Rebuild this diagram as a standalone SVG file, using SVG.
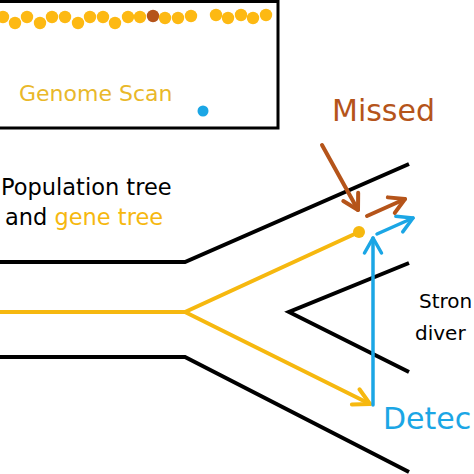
<svg xmlns="http://www.w3.org/2000/svg" width="474" height="474" viewBox="0 0 474 474">
<style>
.t{font-family:"DejaVu Sans","Liberation Sans",sans-serif}
.blk{fill:none;stroke:#000;stroke-width:4;stroke-linejoin:miter}
.yel{fill:none;stroke:#F6B80F;stroke-width:4;stroke-linecap:round}
.blu{fill:none;stroke:#1BA6E5;stroke-width:3.5;stroke-linecap:round}
.brn{fill:none;stroke:#B5541A;stroke-width:4;stroke-linecap:round}
.dot{fill:#FDB913}
</style>
<defs>
<marker id="hy" markerUnits="userSpaceOnUse" viewBox="-20 -12 24 24" markerWidth="24" markerHeight="24" refX="0" refY="0" orient="auto"><path d="M-16,-8.5 L0,0 L-16,8.5" fill="none" stroke="#F6B80F" stroke-width="4" stroke-linecap="round" stroke-linejoin="round"/></marker>
<marker id="hb" markerUnits="userSpaceOnUse" viewBox="-20 -12 24 24" markerWidth="24" markerHeight="24" refX="0" refY="0" orient="auto"><path d="M-15,-8.5 L0,0 L-15,8.5" fill="none" stroke="#1BA6E5" stroke-width="3.5" stroke-linecap="round" stroke-linejoin="round"/></marker>
<marker id="hr" markerUnits="userSpaceOnUse" viewBox="-20 -12 24 24" markerWidth="24" markerHeight="24" refX="0" refY="0" orient="auto"><path d="M-15,-8.5 L0,0 L-15,8.5" fill="none" stroke="#B5541A" stroke-width="4" stroke-linecap="round" stroke-linejoin="round"/></marker>
</defs>
<rect width="474" height="474" fill="#fff"/>
<g id="genome-scan">
<path d="M-5,1.5 H278 V128 H-5" fill="none" stroke="#000" stroke-width="3"/>
<g>
<circle class="dot" cx="3" cy="17" r="6.2"/>
<circle class="dot" cx="15" cy="23" r="6.2"/>
<circle class="dot" cx="27" cy="17" r="6.2"/>
<circle class="dot" cx="40" cy="23" r="6.2"/>
<circle class="dot" cx="52" cy="17" r="6.2"/>
<circle class="dot" cx="65" cy="17" r="6.2"/>
<circle class="dot" cx="78" cy="23" r="6.2"/>
<circle class="dot" cx="90" cy="17" r="6.2"/>
<circle class="dot" cx="103" cy="17" r="6.2"/>
<circle class="dot" cx="115" cy="23" r="6.2"/>
<circle class="dot" cx="128" cy="17" r="6.2"/>
<circle class="dot" cx="140" cy="17" r="6.2"/>
<circle cx="153" cy="16" r="6.2" fill="#B5541A"/>
<circle class="dot" cx="165" cy="18" r="6.2"/>
<circle class="dot" cx="178" cy="18" r="6.2"/>
<circle class="dot" cx="191" cy="16" r="6.2"/>
<circle class="dot" cx="216" cy="15" r="6.2"/>
<circle class="dot" cx="228" cy="18" r="6.2"/>
<circle class="dot" cx="241" cy="15" r="6.2"/>
<circle class="dot" cx="253" cy="18" r="6.2"/>
<circle class="dot" cx="266" cy="15" r="6.2"/>
</g>
<text class="t" x="19" y="101" font-size="22" fill="#E9B82A">Genome Scan</text>
<circle cx="203" cy="111" r="5.5" fill="#1BA6E5"/>
</g>
<g id="population-tree">
<path class="blk" d="M-5,262 H185 L409,164"/>
<path class="blk" d="M409,263 L289,312 L409,372"/>
<path class="blk" d="M-5,357 H185 L409,472"/>
</g>
<g id="gene-tree">
<path class="yel" d="M-5,312 H185 L359,232"/>
<path class="yel" d="M185,312 L370,404" marker-end="url(#hy)"/>
<circle cx="359" cy="232" r="6" fill="#F6B80F"/>
</g>
<g id="connectors">
<path class="blu" d="M373,405 V238" marker-end="url(#hb)"/>
<path class="blu" d="M377,234 L413,218" marker-end="url(#hb)"/>
<path class="brn" d="M367,216 L405,199" marker-end="url(#hr)"/>
<path class="brn" d="M322,145 L358,210" marker-end="url(#hr)"/>
</g>
<g id="labels">
<text class="t" x="1" y="195" font-size="22.5" fill="#000">Population tree</text>
<text class="t" x="5" y="225" font-size="22.5" fill="#000">and <tspan fill="#F6B80F">gene tree</tspan></text>
<text class="t" x="332" y="121" font-size="30" fill="#B5541A">Missed</text>
<text class="t" x="419" y="308" font-size="20" fill="#000">Stron</text>
<text class="t" x="415" y="340" font-size="20" fill="#000">diver</text>
<text class="t" x="383" y="429" font-size="30" fill="#1BA6E5">Detec</text>
</g>
</svg>
